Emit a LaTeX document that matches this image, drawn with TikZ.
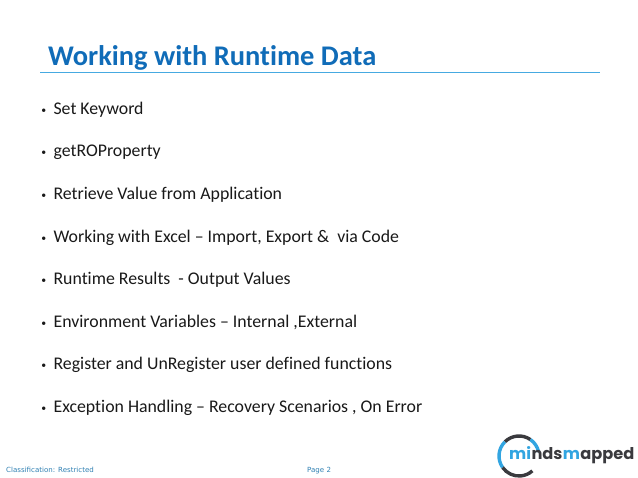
\documentclass[tikz,border=0pt]{standalone}
\usepackage{fontspec}
\setmainfont[RawFeature={-liga;-clig;-dlig}]{Carlito}
\newfontfamily\footfont{DejaVu Sans}
\newfontfamily\logofont{Poppins}
\usepackage{tikz}
\usetikzlibrary{matrix,positioning}
\definecolor{titleblue}{RGB}{16,108,184}
\definecolor{rulecyan}{RGB}{70,170,225}
\definecolor{footblue}{RGB}{50,130,180}
\definecolor{logoblue}{RGB}{50,165,225}
\definecolor{logodark}{RGB}{58,58,62}
\tikzset{
	itemtext/.style={text height=11pt, text depth=3.5pt, inner sep=0pt, font=\fontsize{17.8}{20}\selectfont, text=black!90},
	foottext/.style={inner sep=0pt, text=footblue, font=\footfont\fontsize{7.05}{9}\selectfont},
	logotext/.style={inner sep=0pt, font=\logofont\fontsize{16.2}{20}\selectfont\bfseries},
	logoarc/.style={line width=3.4pt}
}
\newcommand{\itembullet}{\raisebox{1pt}{\scalebox{0.55}{\textbullet}}}
\begin{document}
\begin{tikzpicture}[x=1pt,y=-1pt]
			\useasboundingbox (0,0) rectangle (638,478);
			\fill[white] (0,0) rectangle (638,478);
			\node[anchor=base west, inner sep=0pt, text=titleblue, font=\fontsize{28.45}{30}\selectfont\bfseries] (title) at (48,65.5) {Working with Runtime Data};
			\draw[rulecyan, line width=0.8pt] (40,72.5) -- (600,72.5);
			\matrix (b) [matrix of nodes, anchor=north west, row sep=28.1pt, column sep=7.2pt, inner sep=0pt, nodes={itemtext, anchor=base west}] at (41.3,103)
			{
				\itembullet & Set Keyword\\
				\itembullet & getROProperty\\
				\itembullet & Retrieve Value from Application\\
				\itembullet & Working with Excel -- Import, Export \&\ \ via Code\\
				\itembullet & Runtime Results\ \ - Output Values\\
				\itembullet & Environment Variables -- Internal ,External\\
				\itembullet & Register and UnRegister user defined functions\\
				\itembullet & Exception Handling -- Recovery Scenarios , On Error\\
			};
			\node[foottext, anchor=base west] (classif) at (6,472.5) {Classification: Restricted};
			\node[foottext, anchor=base west] (page) at (307,472.5) {Page 2};
			% logo
			\coordinate (hub) at (519,456);
			\draw[logoarc, logodark] ([shift={(-55:20)}]hub) arc[start angle=-55, end angle=-135, radius=20];
			\draw[logoarc, logoblue] ([shift={(-135:20)}]hub) arc[start angle=-135, end angle=-215, radius=20];
			\draw[logoarc, logodark] ([shift={(-215:20)}]hub) arc[start angle=-215, end angle=-312, radius=20];
			\draw[logoarc, logoblue] ([shift={(-55:20)}]hub) arc[start angle=-55, end angle=-12, radius=20];
			\node[logotext, anchor=base west, text=logoblue] (logoa) at (509,460) {mi};
			\node[logotext, right=0pt of logoa.base east, anchor=base west, text=logodark] (logob) {nds};
			\node[logotext, right=0pt of logob.base east, anchor=base west, text=logoblue] (logoc) {m};
			\node[logotext, right=0pt of logoc.base east, anchor=base west, text=logodark] (logod) {apped};
		\end{tikzpicture}
\end{document}
